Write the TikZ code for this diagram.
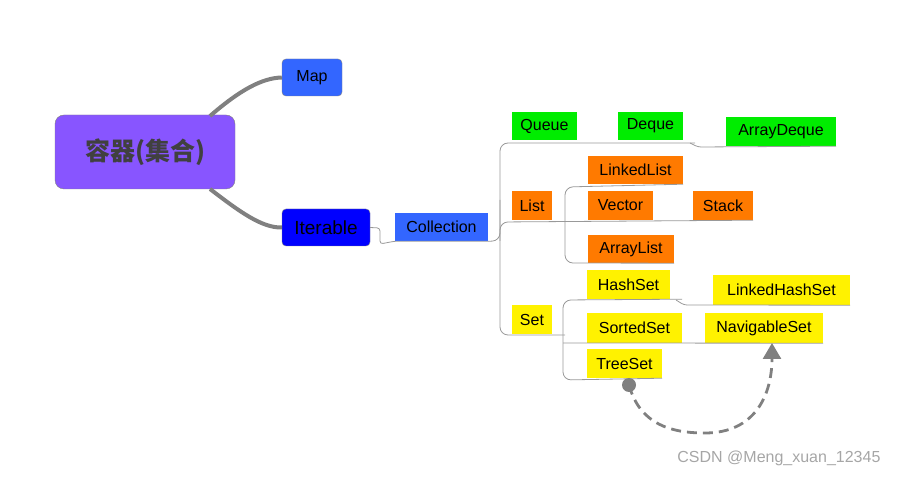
\documentclass[tikz,border=0pt]{standalone}
\usepackage{fontspec}
\setmainfont{Liberation Sans}
\newfontfamily\cjk{Noto Sans CJK SC}
\usetikzlibrary{arrows.meta}
\begin{document}
\begin{tikzpicture}[x=1pt,y=-1pt,
  box/.style={minimum width=#1,minimum height=28,inner sep=0,font=\fontsize{16}{18}\selectfont,text=black},
  grn/.style={fill=green!93!black},
  org/.style={fill=orange!90!red!95!yellow},
  yel/.style={fill=yellow},
  ln/.style={draw=gray!80,line width=0.8pt,rounded corners=8pt},
  thick gray/.style={draw=gray,line width=4pt}]
\useasboundingbox (0,0) rectangle (898,478);
\node[fill=violet!55!blue!75!white,fill={rgb,255:red,136;green,85;blue,255},draw=gray,rounded corners=9pt,minimum width=180,minimum height=74,inner sep=0,font=\cjk\bfseries\fontsize{25}{28}\selectfont,text=black!75] (root) at (145,152) {容器(集合)};
\node[fill={rgb,255:red,51;green,102;blue,255},draw=gray,rounded corners=4pt,box=60,minimum height=37] (map) at (312,77.5) {Map};
\node[fill={rgb,255:red,0;green,0;blue,255},draw=gray,rounded corners=4pt,box=88,minimum height=37,font=\fontsize{19}{21}\selectfont] (iter) at (326,227.5) {Iterable};
\node[fill={rgb,255:red,51;green,102;blue,255},box=93] (coll) at (441.5,227) {Collection};
\node[grn,box=65] (queue) at (544.5,126) {Queue};
\node[grn,box=65] (deque) at (650.5,126) {Deque};
\node[grn,box=110,minimum height=29] (adeque) at (781,131.5) {ArrayDeque};
\node[org,box=95] (llist) at (635.5,170) {LinkedList};
\node[org,box=40,minimum height=29] (list) at (532,205.5) {List};
\node[org,box=65,minimum height=29] (vector) at (620.5,205.5) {Vector};
\node[org,box=60,minimum height=29] (stack) at (723,205.5) {Stack};
\node[org,box=86] (alist) at (631,249) {ArrayList};
\node[yel,box=83,minimum height=29] (hset) at (628.5,284.5) {HashSet};
\node[yel,box=137,minimum height=30] (lhset) at (781.5,290) {LinkedHashSet};
\node[yel,box=40,minimum height=29] (set) at (532,319.5) {Set};
\node[yel,box=95,minimum height=30] (sset) at (634.5,328) {SortedSet};
\node[yel,box=118,minimum height=30] (nset) at (764,328) {NavigableSet};
\node[yel,box=75,minimum height=29] (tset) at (624.5,363.5) {TreeSet};
% thick branches
\draw[thick gray] (210,116) .. controls (240,90) and (262,78) .. (map.west);
\draw[thick gray] (210,189) .. controls (240,212) and (262,228) .. (iter.west);
% thin lines
\draw[ln,rounded corners=3pt] (iter.east) -- (380,228) -- (380,244) -- (coll.south west) -- (coll.south east);
\draw[ln] (coll.south east) -- (500,241) -- (500,143) -- (695,143);
\draw[ln,rounded corners=3pt] (690,143) -- (698,147) -- (adeque.south east);
\draw[ln] (500,200) -- (500,335) -- (565,335);
\draw[ln] (500,241) -- (500,222) -- (stack.south east);
\draw[ln] (llist.south east) -- (565,187) -- (565,263) -- (alist.south east);
\draw[ln] (sset.south east|-hset.south) -- (563,300) -- (563,380) -- (tset.south east);
\draw[ln,rounded corners=3pt] (676,300) -- (684,305) -- (lhset.south east);
\draw[ln,rounded corners=0pt] (563,343) -- (nset.south east);
% dashed arrow
\fill[gray] (629,385) circle (7);
\draw[gray,line width=2.8pt,dash pattern=on 10pt off 6pt,-{Triangle[length=16pt,width=18pt]}] (629,385) .. controls (640,425) and (672,433) .. (705,433) .. controls (755,433) and (772,395) .. (772,343);
\node[text=gray!70,font=\fontsize{16}{18}\selectfont,anchor=east] (wm) at (884,458) {CSDN @Meng\_xuan\_12345};
\end{tikzpicture}
\end{document}
